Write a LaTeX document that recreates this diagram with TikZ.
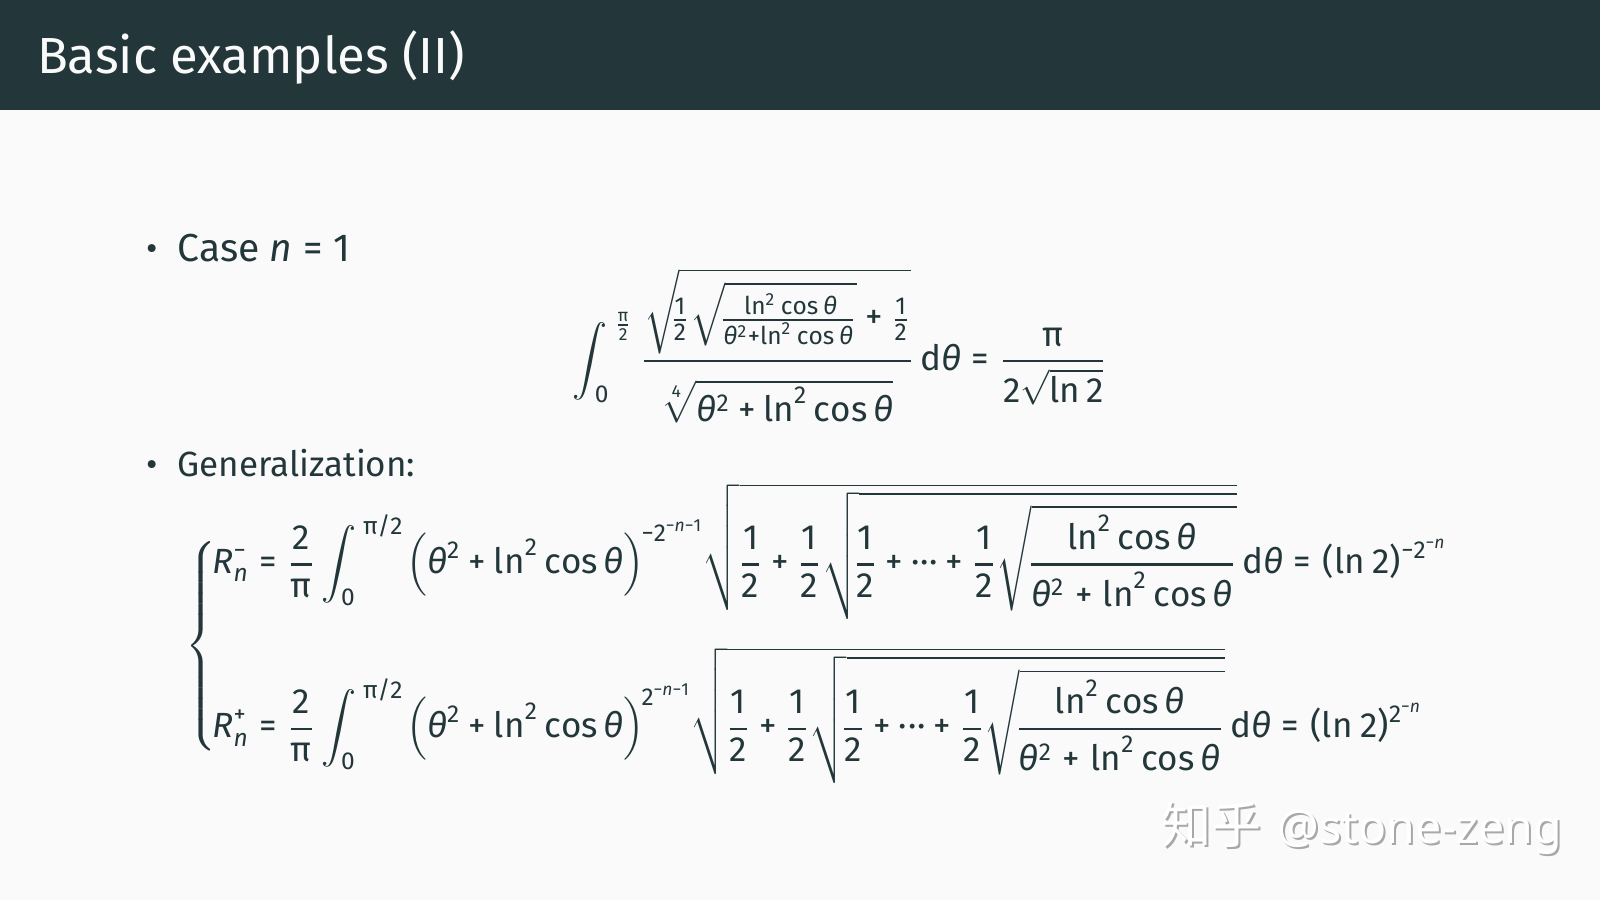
\documentclass[tikz,border=0pt]{standalone}
\usepackage{amsmath}
\usepackage[no-math]{fontspec}
\setmainfont{Fira Sans}
\newfontfamily\cjk{Noto Sans CJK SC}
\newfontfamily\marksans{Noto Sans}
\SetSymbolFont{operators}{normal}{TU}{\rmdefault}{m}{n}
\SetSymbolFont{letters}{normal}{TU}{\rmdefault}{m}{it}
\Umathcode`+="2 0 `+
\Umathcode`=="3 0 `=
\Umathcode`-="2 0 "2212
\Umathcode`/="0 0 `/
\Umathcode`(="4 0 `(
\Umathcode`)="5 0 `)
\Umathchardef\thetait="0 1 "03B8
\Umathchardef\piup="0 0 "03C0
\Umathchardef\middot="0 0 "00B7
\newcommand{\tightdots}{\mathinner{\middot\mkern0.5mu\middot\mkern0.5mu\middot}}
\newcommand{\lncos}{\ln^2\cos\thetait}
\newcommand{\halfof}{\frac12}
\newcommand{\nestedroot}{\sqrt{\rule[-10.5pt]{0pt}{34.5pt}\smash{\mkern-1mu\halfof+\halfof\sqrt{\mkern-3.5mu\halfof+\tightdots+\halfof\sqrt{\mkern-2.6mu\frac{\lncos}{\thetait^2\mkern1.2mu+\mkern1.3mu\lncos}}}}}}
\makeatletter
\AtBeginDocument{\check@mathfonts
  \fontdimen5\textfont2=0.5pt
  \fontdimen8\textfont3=0.6pt
  \fontdimen8\scriptfont3=0.6pt
  \fontdimen8\scriptscriptfont3=0.6pt}
\makeatother
\definecolor{slidebar}{HTML}{23373B}
\definecolor{slidebg}{HTML}{FAFAFA}
\definecolor{markgrey}{HTML}{A8A8A8}
\tikzset{
  slidetext/.style={text=slidebar,inner sep=0pt,anchor=base west,scale=3.5},
  formula/.style={text=slidebar,inner sep=0pt,scale=3.5},
  markshadow/.style={text=markgrey,inner sep=0pt,anchor=base west},
  marklight/.style={text=white,inner sep=0pt,anchor=base west},
}
\begin{document}
\begin{tikzpicture}[x=1pt,y=-1pt]
\useasboundingbox (0,0) rectangle (1600,900);
\fill[slidebg] (0,0) rectangle (1600,900);
\fill[slidebar] (0,0) rectangle (1600,110);
\node[slidetext,text=slidebg,scale=1.45] (title) at (36,73) {Basic examples (II)};
\node[slidetext] (bulone) at (146,260) {\textbullet};
\node[slidetext,scale=1.115] (caseone) at (177,261) {Case $n=1$};
\node[slidetext] (bultwo) at (146,476) {\textbullet};
\node[slidetext] (gener) at (177,476) {Generalization:};
\node[formula] (eqone) at (840,346) {$\displaystyle\int_{\mkern2mu 0}^{\mkern4mu\frac{\piup}{2}} \frac{\sqrt{\mkern-5mu\halfof\sqrt{\mkern-3mu\frac{\rule{0pt}{7.5pt}\lncos}{\thetait^2+\lncos}}+\halfof}}{\rule{0pt}{15pt}\sqrt[4]{\thetait^2+\lncos}}\,\mathrm{d}\thetait=\frac{\piup}{2\sqrt{\ln 2}}$};
\node[formula] (bracetwo) at (203,649) {$\left\{\vrule height 29pt depth 29pt width 0pt\right.$};
\node[formula,anchor=west] (eqtwo) at (212,629) {$\displaystyle\begin{aligned}
R_n^-&=\frac{2}{\piup}\int_0^{\mkern4mu\piup/2}\mkern-2mu\left(\thetait^2+\lncos\right)^{\mkern-2mu-2^{-n-1}}\mkern-4mu\nestedroot\,\mathrm{d}\thetait=\mkern1mu(\ln\mkern1mu 2)^{-2^{-n}}\\[6.5pt]
R_n^+&=\frac{2}{\piup}\int_0^{\mkern4mu\piup/2}\mkern-2mu\left(\thetait^2+\lncos\right)^{\mkern-2mu2^{-n-1}}\mkern-4mu\nestedroot\,\mathrm{d}\thetait=\mkern1mu(\ln\mkern1mu 2)^{2^{-n}}
\end{aligned}$};
\node[markshadow,scale=5] (zhihushadow) at (1162,845) {\cjk 知乎};
\node[markshadow,scale=4.64] (usershadow) at (1279,845) {\marksans @stone-zeng};
\node[marklight,scale=5] (zhihu) at (1160,843) {\cjk 知乎};
\node[marklight,scale=4.64] (user) at (1277,843) {\marksans @stone-zeng};
\end{tikzpicture}
\end{document}
